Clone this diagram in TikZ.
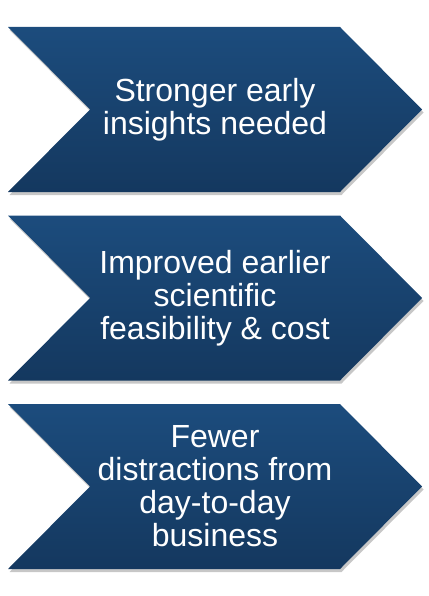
\documentclass[tikz,border=0pt]{standalone}
\usepackage{fontspec}
\setmainfont{Liberation Sans}
\usetikzlibrary{shadows}
\definecolor{chevtop}{HTML}{1C4C7D}
\definecolor{chevbot}{HTML}{14385F}
\tikzset{
  chev/.style={top color=chevtop, bottom color=chevbot, draw=none,
    drop shadow={shadow xshift=1.5pt, shadow yshift=-3pt, opacity=0.22, fill=black}},
  chevtext/.style={text=white, align=center, font=\fontsize{32}{33}\selectfont, inner sep=0pt}
}
\newcommand{\chevronat}[1]{%
  \path[chev] (8,#1) -- (340,#1) -- (422,#1+82.5) -- (340,#1+165) -- (8,#1+165) -- (90,#1+82.5) -- cycle;}
\begin{document}
\begin{tikzpicture}[x=1pt,y=-1pt]
\useasboundingbox (0,0) rectangle (428,596);
\chevronat{27}
\chevronat{215.5}
\chevronat{404}
\node[chevtext] (t1) at (215,109.5) {Stronger early\\insights needed};
\node[chevtext] (t2) at (215,298) {Improved earlier\\scientific\\feasibility \& cost};
\node[chevtext] (t3) at (215,486.5) {Fewer\\distractions from\\day-to-day\\business};
\end{tikzpicture}
\end{document}
